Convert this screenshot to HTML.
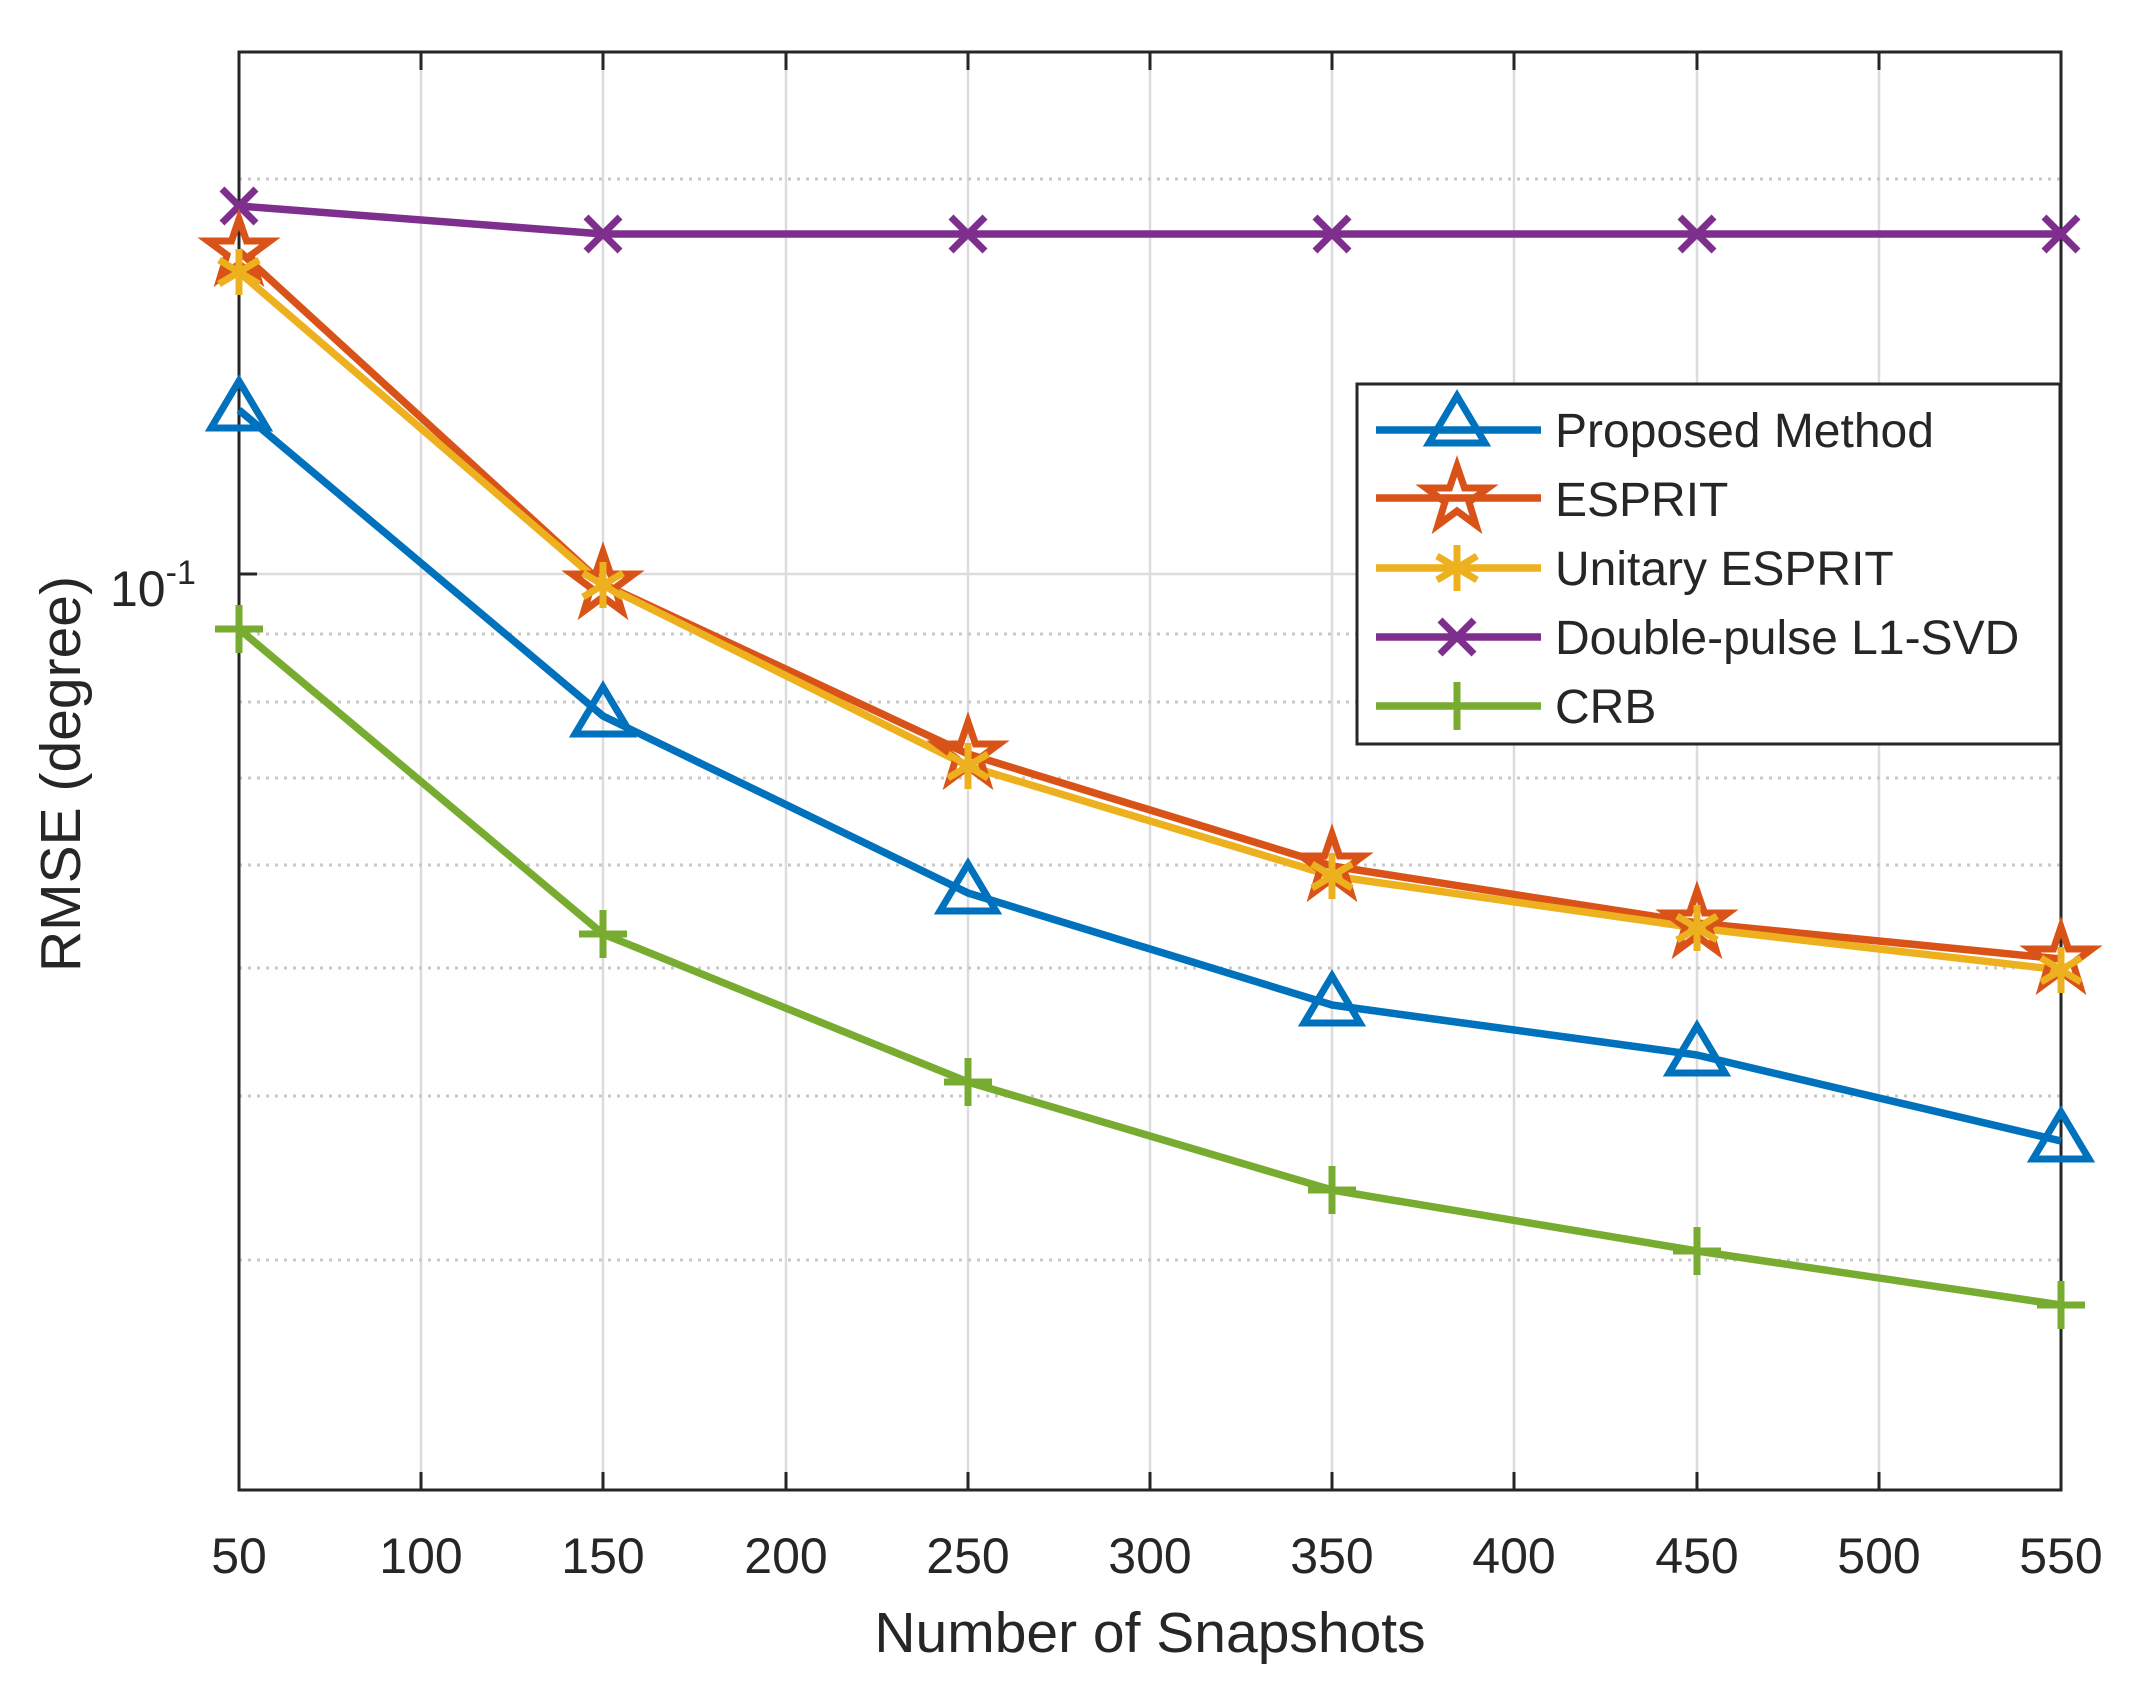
<!DOCTYPE html>
<html><head><style>html,body{margin:0;padding:0;background:#fff}</style></head>
<body>
<svg width="2129" height="1695" xmlns="http://www.w3.org/2000/svg" font-family="Liberation Sans, sans-serif">
<defs>
<g id="tri"><polygon points="0,-29 28,18 -28,18" fill="none" stroke="#0072BD" stroke-width="7"/></g>
<g id="star"><polygon points="0,-32 7.5,-10 31,-10 12,4 19,27 0,13 -19,27 -12,4 -31,-10 -7.5,-10" fill="none" stroke="#D95319" stroke-width="7"/></g>
<g id="ast" stroke="#EDB120" stroke-width="7"><line x1="0" y1="-23" x2="0" y2="23"/><line x1="-20" y1="-12" x2="20" y2="12"/><line x1="-20" y1="12" x2="20" y2="-12"/></g>
<g id="xx" stroke="#7E2F8E" stroke-width="7"><line x1="-17" y1="-17" x2="17" y2="17"/><line x1="-17" y1="17" x2="17" y2="-17"/></g>
<g id="pl" stroke="#77AC30" stroke-width="7"><line x1="0" y1="-24" x2="0" y2="24"/><line x1="-24" y1="0" x2="24" y2="0"/></g>
</defs>
<rect x="239" y="52" width="1822" height="1438" fill="#fff"/>
<g stroke="#dcdcdc" stroke-width="2.5">
<line x1="421" y1="52" x2="421" y2="1490"/><line x1="603" y1="52" x2="603" y2="1490"/><line x1="786" y1="52" x2="786" y2="1490"/><line x1="968" y1="52" x2="968" y2="1490"/><line x1="1150" y1="52" x2="1150" y2="1490"/><line x1="1332" y1="52" x2="1332" y2="1490"/><line x1="1514" y1="52" x2="1514" y2="1490"/><line x1="1697" y1="52" x2="1697" y2="1490"/><line x1="1879" y1="52" x2="1879" y2="1490"/>
<line x1="239" y1="574" x2="2061" y2="574"/>
</g>
<g stroke="#c8c8c8" stroke-width="3" stroke-dasharray="3,6">
<line x1="239" y1="179" x2="2061" y2="179"/><line x1="239" y1="634" x2="2061" y2="634"/><line x1="239" y1="702" x2="2061" y2="702"/><line x1="239" y1="778" x2="2061" y2="778"/><line x1="239" y1="865" x2="2061" y2="865"/><line x1="239" y1="968" x2="2061" y2="968"/><line x1="239" y1="1096" x2="2061" y2="1096"/><line x1="239" y1="1260" x2="2061" y2="1260"/>
</g>
<rect x="239" y="52" width="1822" height="1438" fill="none" stroke="#262626" stroke-width="3"/>
<g stroke="#262626" stroke-width="3">
<line x1="421" y1="1490" x2="421" y2="1472"/><line x1="603" y1="1490" x2="603" y2="1472"/><line x1="786" y1="1490" x2="786" y2="1472"/><line x1="968" y1="1490" x2="968" y2="1472"/><line x1="1150" y1="1490" x2="1150" y2="1472"/><line x1="1332" y1="1490" x2="1332" y2="1472"/><line x1="1514" y1="1490" x2="1514" y2="1472"/><line x1="1697" y1="1490" x2="1697" y2="1472"/><line x1="1879" y1="1490" x2="1879" y2="1472"/>
<line x1="421" y1="52" x2="421" y2="70"/><line x1="603" y1="52" x2="603" y2="70"/><line x1="786" y1="52" x2="786" y2="70"/><line x1="968" y1="52" x2="968" y2="70"/><line x1="1150" y1="52" x2="1150" y2="70"/><line x1="1332" y1="52" x2="1332" y2="70"/><line x1="1514" y1="52" x2="1514" y2="70"/><line x1="1697" y1="52" x2="1697" y2="70"/><line x1="1879" y1="52" x2="1879" y2="70"/>
<line x1="239" y1="574" x2="257" y2="574"/><line x1="2061" y1="574" x2="2043" y2="574"/>
</g>
<g font-size="50" fill="#262626" text-anchor="middle">
<text x="239" y="1573">50</text><text x="421" y="1573">100</text><text x="603" y="1573">150</text><text x="786" y="1573">200</text><text x="968" y="1573">250</text><text x="1150" y="1573">300</text><text x="1332" y="1573">350</text><text x="1514" y="1573">400</text><text x="1697" y="1573">450</text><text x="1879" y="1573">500</text><text x="2061" y="1573">550</text>
<text x="1150" y="1652" font-size="57">Number of Snapshots</text>
<text transform="translate(80,774) rotate(-90)" font-size="57">RMSE (degree)</text>
</g>
<text x="110" y="606" font-size="50" fill="#262626">10<tspan font-size="34" dy="-22">-1</tspan></text>
<g fill="none" stroke-width="7.5" stroke-linejoin="round">
<polyline stroke="#7E2F8E" points="239,206 603,234 968,234 1332,234 1697,234 2061,234"/>
<polyline stroke="#D95319" points="239,251 603,584 968,754 1332,866 1697,923 2061,959"/>
<polyline stroke="#EDB120" points="239,272 603,585 968,766 1332,876 1697,928 2061,970"/>
<polyline stroke="#0072BD" points="239,410 603,716 968,893 1332,1005 1697,1055 2061,1141"/>
<polyline stroke="#77AC30" points="239,629 603,934 968,1082 1332,1190 1697,1251 2061,1305"/>
</g>
<use href="#xx" x="239" y="206"/><use href="#xx" x="603" y="234"/><use href="#xx" x="968" y="234"/><use href="#xx" x="1332" y="234"/><use href="#xx" x="1697" y="234"/><use href="#xx" x="2061" y="234"/>
<use href="#star" x="239" y="251"/><use href="#star" x="603" y="584"/><use href="#star" x="968" y="754"/><use href="#star" x="1332" y="866"/><use href="#star" x="1697" y="923"/><use href="#star" x="2061" y="959"/>
<use href="#ast" x="239" y="272"/><use href="#ast" x="603" y="585"/><use href="#ast" x="968" y="766"/><use href="#ast" x="1332" y="876"/><use href="#ast" x="1697" y="928"/><use href="#ast" x="2061" y="970"/>
<use href="#tri" x="239" y="410"/><use href="#tri" x="603" y="716"/><use href="#tri" x="968" y="893"/><use href="#tri" x="1332" y="1005"/><use href="#tri" x="1697" y="1055"/><use href="#tri" x="2061" y="1141"/>
<use href="#pl" x="239" y="629"/><use href="#pl" x="603" y="934"/><use href="#pl" x="968" y="1082"/><use href="#pl" x="1332" y="1190"/><use href="#pl" x="1697" y="1251"/><use href="#pl" x="2061" y="1305"/>
<rect x="1357" y="384" width="703" height="360" fill="#fff" stroke="#262626" stroke-width="3"/>
<g stroke-width="7.5">
<line x1="1376" y1="430" x2="1541" y2="430" stroke="#0072BD"/><use href="#tri" x="1457" y="425"/>
<line x1="1376" y1="498" x2="1541" y2="498" stroke="#D95319"/><use href="#star" x="1457" y="498"/>
<line x1="1376" y1="568" x2="1541" y2="568" stroke="#EDB120"/><use href="#ast" x="1457" y="568"/>
<line x1="1376" y1="637" x2="1541" y2="637" stroke="#7E2F8E"/><use href="#xx" x="1457" y="637"/>
<line x1="1376" y1="706" x2="1541" y2="706" stroke="#77AC30"/><use href="#pl" x="1457" y="706"/>
</g>
<g font-size="48" fill="#262626">
<text x="1555" y="447">Proposed Method</text>
<text x="1555" y="516">ESPRIT</text>
<text x="1555" y="585">Unitary ESPRIT</text>
<text x="1555" y="654">Double-pulse L1-SVD</text>
<text x="1555" y="723">CRB</text>
</g>
</svg>
</body></html>
